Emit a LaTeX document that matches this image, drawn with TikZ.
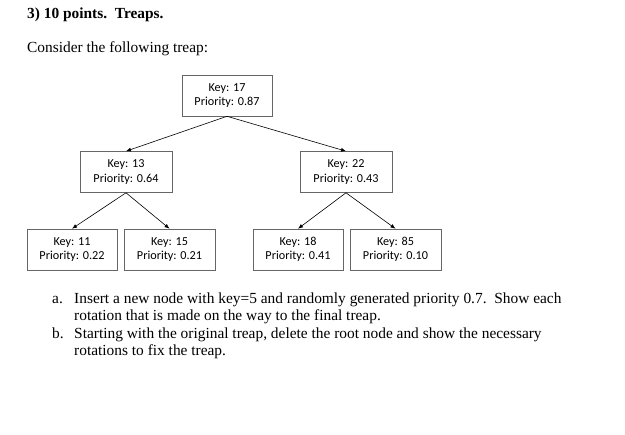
\documentclass[tikz,border=0pt]{standalone}
\usepackage{fontspec}
\setmainfont{Liberation Serif}
\newfontfamily\boxfont{Carlito}
\usetikzlibrary{arrows.meta}
\begin{document}
\begin{tikzpicture}[x=1pt,y=-1pt,
  box/.style={draw=black!60,line width=0.6pt,minimum width=90pt,minimum height=41pt,align=center,font=\boxfont\fontsize{12.2}{14.5}\selectfont,inner sep=0pt},
  arr/.style={-{Latex[length=5pt,width=4pt]},line width=0.6pt},
  txt/.style={anchor=base west,inner sep=0pt,font=\fontsize{15.4}{17}\selectfont}]
\useasboundingbox (0,0) rectangle (625,435);
\node[txt,font=\bfseries\fontsize{15.4}{17}\selectfont] (title) at (27,19) {3) 10 points.\ \ Treaps.};
\node[txt] (intro) at (27,53) {Consider the following treap:};
\node[box] (r) at (227,95.5) {Key: 17\\Priority: 0.87};
\node[box,minimum width=92pt] (l) at (126,172) {Key: 13\\Priority: 0.64};
\node[box,minimum width=92pt] (rr) at (346,172) {Key: 22\\Priority: 0.43};
\node[box] (ll) at (72,249.5) {Key: 11\\Priority: 0.22};
\node[box,minimum width=91pt] (lr) at (169.5,249.5) {Key: 15\\Priority: 0.21};
\node[box] (rl) at (298,249.5) {Key: 18\\Priority: 0.41};
\node[box,minimum width=91pt] (rrr) at (395.5,249.5) {Key: 85\\Priority: 0.10};
\draw[arr] (r.south) -- (l.north);
\draw[arr] (r.south) -- (rr.north);
\draw[arr] (l.south) -- (ll.north);
\draw[arr] (l.south) -- (lr.north);
\draw[arr] (rr.south) -- (rl.north);
\draw[arr] (rr.south) -- (rrr.north);
\node[txt] (a) at (52,304) {a.};
\node[txt] (a1) at (74,304) {Insert a new node with key=5 and randomly generated priority 0.7.\ \ Show each};
\node[txt] (a2) at (74,321) {rotation that is made on the way to the final treap.};
\node[txt] (b) at (52,339) {b.};
\node[txt] (b1) at (74,339) {Starting with the original treap, delete the root node and show the necessary};
\node[txt] (b2) at (74,356) {rotations to fix the treap.};
\end{tikzpicture}
\end{document}
